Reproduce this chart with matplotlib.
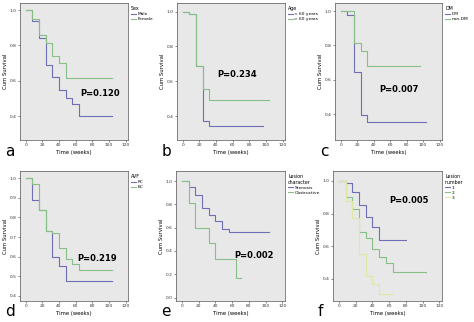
import numpy as np
import matplotlib
matplotlib.use('Agg')
from matplotlib import pyplot as plt

BLUE = '#6f6fb5'
GREEN = '#86c086'
LIGHT = '#dfe7a6'

# panel a: sex
a_male_t = [0, 8, 16, 24, 32, 40, 48, 56, 64, 104]
a_male_s = [1.0, 0.94, 0.84, 0.69, 0.62, 0.55, 0.50, 0.47, 0.40, 0.40]
a_female_t = [0, 8, 16, 24, 32, 40, 48, 104]
a_female_s = [1.0, 0.95, 0.86, 0.815, 0.74, 0.70, 0.615, 0.615]

# panel b: age
b_old_t = [0, 8, 16, 24, 32, 96]
b_old_s = [1.0, 0.985, 0.685, 0.37, 0.34, 0.34]
b_young_t = [0, 8, 16, 24, 32, 104]
b_young_s = [1.0, 0.985, 0.685, 0.555, 0.49, 0.49]

# panel c: DM
c_dm_t = [0, 8, 16, 24, 32, 104]
c_dm_s = [1.0, 0.977, 0.648, 0.396, 0.354, 0.354]
c_non_t = [0, 16, 24, 32, 96]
c_non_s = [1.0, 0.812, 0.768, 0.68, 0.68]

# panel d: AVF
d_rc_t = [0, 8, 16, 24, 32, 40, 48, 104]
d_rc_s = [1.0, 0.89, 0.84, 0.73, 0.60, 0.555, 0.475, 0.475]
d_bc_t = [0, 8, 16, 24, 32, 40, 48, 56, 64, 104]
d_bc_s = [1.0, 0.97, 0.84, 0.73, 0.72, 0.645, 0.59, 0.565, 0.53, 0.53]

# panel e: lesion character
e_sten_t = [0, 8, 16, 24, 32, 40, 48, 56, 104]
e_sten_s = [1.0, 0.95, 0.88, 0.766, 0.706, 0.657, 0.586, 0.566, 0.566]
e_obst_t = [0, 8, 16, 32, 40, 64, 70]
e_obst_s = [1.0, 0.814, 0.60, 0.47, 0.33, 0.17, 0.17]

# panel f: lesion number
f_one_t = [0, 8, 16, 24, 32, 40, 48, 80]
f_one_s = [1.0, 0.99, 0.93, 0.85, 0.78, 0.72, 0.64, 0.64]
f_two_t = [0, 8, 16, 24, 32, 40, 48, 56, 64, 104]
f_two_s = [1.0, 0.90, 0.83, 0.69, 0.65, 0.586, 0.535, 0.50, 0.44, 0.44]
f_three_t = [0, 8, 16, 24, 32, 40, 48, 64]
f_three_s = [1.0, 0.877, 0.776, 0.55, 0.418, 0.367, 0.31, 0.31]

x_ticks = [0, 20, 40, 60, 80, 100, 120]

panels = [
    dict(letter='a', box=(20, 3, 128, 140), ylim=(0.265, 1.04), yticks=[0.4, 0.6, 0.8, 1.0],
         title='Sex', p='P=0.120', pxy=(0.74, 0.34),
         curves=[('Male', a_male_t, a_male_s, BLUE), ('Female', a_female_t, a_female_s, GREEN)]),
    dict(letter='b', box=(177, 3, 285, 140), ylim=(0.262, 1.05), yticks=[0.4, 0.6, 0.8, 1.0],
         title='Age', p='P=0.234', pxy=(0.555, 0.48),
         curves=[('< 60 years', b_old_t, b_old_s, BLUE), ('> 60 years', b_young_t, b_young_s, GREEN)]),
    dict(letter='c', box=(335, 3, 442, 140), ylim=(0.25, 1.047), yticks=[0.4, 0.6, 0.8, 1.0],
         title='DM', p='P=0.007', pxy=(0.6, 0.37),
         curves=[('DM', c_dm_t, c_dm_s, BLUE), ('non-DM', c_non_t, c_non_s, GREEN)]),
    dict(letter='d', box=(20, 171, 128, 301), ylim=(0.374, 1.037),
         yticks=[0.4, 0.5, 0.6, 0.7, 0.8, 0.9, 1.0],
         title='AVF', p='P=0.219', pxy=(0.71, 0.33),
         curves=[('RC', d_rc_t, d_rc_s, BLUE), ('BC', d_bc_t, d_bc_s, GREEN)]),
    dict(letter='e', box=(176, 171, 285, 301), ylim=(-0.029, 1.086),
         yticks=[0.0, 0.2, 0.4, 0.6, 0.8, 1.0],
         title='Lesion\ncharacter', p='P=0.002', pxy=(0.72, 0.35),
         curves=[('Stenosis', e_sten_t, e_sten_s, BLUE), ('Obstructive', e_obst_t, e_obst_s, GREEN)]),
    dict(letter='f', box=(333, 171, 442, 301), ylim=(0.265, 1.061), yticks=[0.4, 0.6, 0.8, 1.0],
         title='Lesion\nnumber', p='P=0.005', pxy=(0.70, 0.77),
         curves=[('1', f_one_t, f_one_s, BLUE), ('2', f_two_t, f_two_s, GREEN),
                 ('3', f_three_t, f_three_s, LIGHT)]),
]

W, H = 474, 322
fig = plt.figure(figsize=(W / 100, H / 100), dpi=100)

for pn in panels:
    x0, y0, x1, y1 = pn['box']
    ax = fig.add_axes([x0 / W, 1 - y1 / H, (x1 - x0) / W, (y1 - y0) / H])
    ax.set_facecolor('#e8e8e8')
    for name, t, s, col in pn['curves']:
        ax.step(t, s, where='post', color=col, lw=0.8, label=name)
    ax.set_xlim(-7, 123)
    ax.set_ylim(*pn['ylim'])
    ax.set_xticks(x_ticks)
    ax.set_yticks(pn['yticks'])
    ax.set_yticklabels(['%.1f' % v for v in pn['yticks']])
    ax.tick_params(labelsize=3.2, length=1.5, width=0.4, pad=1, colors='#333333')
    for sp in ax.spines.values():
        sp.set_linewidth(0.5)
        sp.set_color('#555555')
    ax.set_xlabel('Time (weeks)', fontsize=3.8, labelpad=2)
    ax.set_ylabel('Cum Survival', fontsize=3.8, labelpad=1)
    ax.text(pn['pxy'][0], pn['pxy'][1], pn['p'], transform=ax.transAxes,
            fontsize=6, fontweight='bold', ha='center', va='center')
    ax.legend(loc='upper left', bbox_to_anchor=(1.0, 1.0), frameon=False,
              fontsize=3.2, title=pn['title'], title_fontsize=3.4,
              handlelength=1.0, handletextpad=0.4, labelspacing=0.2,
              borderaxespad=0.3, alignment='left')
    fig.text((x0 - 15) / W, 1 - (y1 + 11) / H, pn['letter'], fontsize=11,
             ha='left', va='center')

fig.savefig('out.png', dpi=100)
